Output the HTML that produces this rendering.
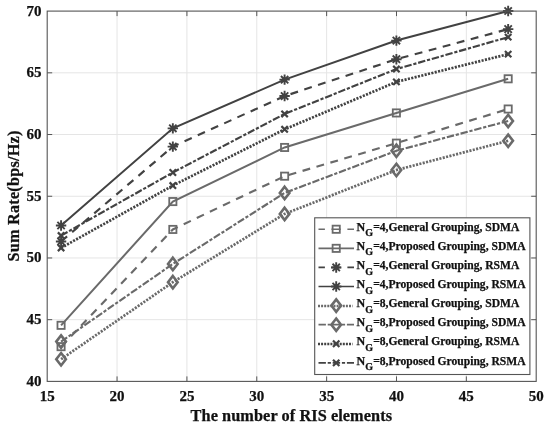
<!DOCTYPE html>
<html><head><meta charset="utf-8"><title>Sum Rate vs RIS elements</title>
<style>html,body{margin:0;padding:0;background:#fff}body{width:550px;height:429px;overflow:hidden}</style>
</head><body>
<svg width="550" height="429" viewBox="0 0 550 429" style="display:block">
<rect width="550" height="429" fill="#fff"/>
<line x1="117.06" y1="11.1" x2="117.06" y2="381.4" stroke="#e5e5e5" stroke-width="1"/>
<line x1="186.91" y1="11.1" x2="186.91" y2="381.4" stroke="#e5e5e5" stroke-width="1"/>
<line x1="256.77" y1="11.1" x2="256.77" y2="381.4" stroke="#e5e5e5" stroke-width="1"/>
<line x1="326.63" y1="11.1" x2="326.63" y2="381.4" stroke="#e5e5e5" stroke-width="1"/>
<line x1="396.49" y1="11.1" x2="396.49" y2="381.4" stroke="#e5e5e5" stroke-width="1"/>
<line x1="466.34" y1="11.1" x2="466.34" y2="381.4" stroke="#e5e5e5" stroke-width="1"/>
<line x1="47.2" y1="319.68" x2="536.2" y2="319.68" stroke="#e5e5e5" stroke-width="1"/>
<line x1="47.2" y1="257.97" x2="536.2" y2="257.97" stroke="#e5e5e5" stroke-width="1"/>
<line x1="47.2" y1="196.25" x2="536.2" y2="196.25" stroke="#e5e5e5" stroke-width="1"/>
<line x1="47.2" y1="134.53" x2="536.2" y2="134.53" stroke="#e5e5e5" stroke-width="1"/>
<line x1="47.2" y1="72.82" x2="536.2" y2="72.82" stroke="#e5e5e5" stroke-width="1"/>
<line x1="117.06" y1="381.4" x2="117.06" y2="376.4" stroke="#555" stroke-width="1"/>
<line x1="117.06" y1="11.1" x2="117.06" y2="16.1" stroke="#555" stroke-width="1"/>
<line x1="186.91" y1="381.4" x2="186.91" y2="376.4" stroke="#555" stroke-width="1"/>
<line x1="186.91" y1="11.1" x2="186.91" y2="16.1" stroke="#555" stroke-width="1"/>
<line x1="256.77" y1="381.4" x2="256.77" y2="376.4" stroke="#555" stroke-width="1"/>
<line x1="256.77" y1="11.1" x2="256.77" y2="16.1" stroke="#555" stroke-width="1"/>
<line x1="326.63" y1="381.4" x2="326.63" y2="376.4" stroke="#555" stroke-width="1"/>
<line x1="326.63" y1="11.1" x2="326.63" y2="16.1" stroke="#555" stroke-width="1"/>
<line x1="396.49" y1="381.4" x2="396.49" y2="376.4" stroke="#555" stroke-width="1"/>
<line x1="396.49" y1="11.1" x2="396.49" y2="16.1" stroke="#555" stroke-width="1"/>
<line x1="466.34" y1="381.4" x2="466.34" y2="376.4" stroke="#555" stroke-width="1"/>
<line x1="466.34" y1="11.1" x2="466.34" y2="16.1" stroke="#555" stroke-width="1"/>
<line x1="47.2" y1="319.68" x2="52.2" y2="319.68" stroke="#555" stroke-width="1"/>
<line x1="536.2" y1="319.68" x2="531.2" y2="319.68" stroke="#555" stroke-width="1"/>
<line x1="47.2" y1="257.97" x2="52.2" y2="257.97" stroke="#555" stroke-width="1"/>
<line x1="536.2" y1="257.97" x2="531.2" y2="257.97" stroke="#555" stroke-width="1"/>
<line x1="47.2" y1="196.25" x2="52.2" y2="196.25" stroke="#555" stroke-width="1"/>
<line x1="536.2" y1="196.25" x2="531.2" y2="196.25" stroke="#555" stroke-width="1"/>
<line x1="47.2" y1="134.53" x2="52.2" y2="134.53" stroke="#555" stroke-width="1"/>
<line x1="536.2" y1="134.53" x2="531.2" y2="134.53" stroke="#555" stroke-width="1"/>
<line x1="47.2" y1="72.82" x2="52.2" y2="72.82" stroke="#555" stroke-width="1"/>
<line x1="536.2" y1="72.82" x2="531.2" y2="72.82" stroke="#555" stroke-width="1"/>
<polyline points="61.07,346.66 172.84,229.43 284.61,176.18 396.39,143.14 508.16,109.00" fill="none" stroke="#6a6a6a" stroke-width="2.15" stroke-dasharray="7.9 6.6"/>
<polyline points="61.07,325.33 172.84,201.57 284.61,147.46 396.39,112.94 508.16,78.80" fill="none" stroke="#6a6a6a" stroke-width="2.0"/>
<polyline points="61.07,241.51 172.84,146.59 284.61,96.05 396.39,59.20 508.16,29.12" fill="none" stroke="#424242" stroke-width="2.15" stroke-dasharray="7.9 6.6"/>
<polyline points="61.07,225.48 172.84,128.35 284.61,79.66 396.39,40.58 508.16,11.00" fill="none" stroke="#424242" stroke-width="2.0"/>
<polyline points="61.07,359.23 172.84,282.19 284.61,213.90 396.39,170.01 508.16,140.80" fill="none" stroke="#6a6a6a" stroke-width="2.7" stroke-dasharray="2.1 1.35"/>
<polyline points="61.07,341.60 172.84,263.94 284.61,192.94 396.39,150.78 508.16,120.95" fill="none" stroke="#6a6a6a" stroke-width="2.15" stroke-dasharray="7.4 1.8 3.2 1.8"/>
<polyline points="61.07,247.92 172.84,185.55 284.61,129.34 396.39,81.88 508.16,54.14" fill="none" stroke="#424242" stroke-width="2.7" stroke-dasharray="2.1 1.35"/>
<polyline points="61.07,235.59 172.84,172.48 284.61,113.93 396.39,69.06 508.16,37.13" fill="none" stroke="#424242" stroke-width="2.15" stroke-dasharray="7.4 1.8 3.2 1.8"/>
<rect x="57.47" y="343.06" width="7.2" height="7.2" fill="none" stroke="#6a6a6a" stroke-width="1.8"/>
<rect x="169.24" y="225.83" width="7.2" height="7.2" fill="none" stroke="#6a6a6a" stroke-width="1.8"/>
<rect x="281.01" y="172.58" width="7.2" height="7.2" fill="none" stroke="#6a6a6a" stroke-width="1.8"/>
<rect x="392.79" y="139.54" width="7.2" height="7.2" fill="none" stroke="#6a6a6a" stroke-width="1.8"/>
<rect x="504.56" y="105.40" width="7.2" height="7.2" fill="none" stroke="#6a6a6a" stroke-width="1.8"/>
<rect x="57.47" y="321.73" width="7.2" height="7.2" fill="none" stroke="#6a6a6a" stroke-width="1.8"/>
<rect x="169.24" y="197.97" width="7.2" height="7.2" fill="none" stroke="#6a6a6a" stroke-width="1.8"/>
<rect x="281.01" y="143.86" width="7.2" height="7.2" fill="none" stroke="#6a6a6a" stroke-width="1.8"/>
<rect x="392.79" y="109.34" width="7.2" height="7.2" fill="none" stroke="#6a6a6a" stroke-width="1.8"/>
<rect x="504.56" y="75.20" width="7.2" height="7.2" fill="none" stroke="#6a6a6a" stroke-width="1.8"/>
<path d="M55.87 241.51H66.27M61.07 236.31V246.71M57.39 237.83L64.75 245.19M57.39 245.19L64.75 237.83" fill="none" stroke="#424242" stroke-width="1.9"/>
<path d="M167.64 146.59H178.04M172.84 141.39V151.79M169.17 142.92L176.52 150.27M169.17 150.27L176.52 142.92" fill="none" stroke="#424242" stroke-width="1.9"/>
<path d="M279.41 96.05H289.81M284.61 90.85V101.25M280.94 92.38L288.29 99.73M280.94 99.73L288.29 92.38" fill="none" stroke="#424242" stroke-width="1.9"/>
<path d="M391.19 59.20H401.59M396.39 54.00V64.40M392.71 55.52L400.06 62.87M392.71 62.87L400.06 55.52" fill="none" stroke="#424242" stroke-width="1.9"/>
<path d="M502.96 29.12H513.36M508.16 23.92V34.32M504.48 25.44L511.83 32.80M504.48 32.80L511.83 25.44" fill="none" stroke="#424242" stroke-width="1.9"/>
<path d="M55.87 225.48H66.27M61.07 220.28V230.68M57.39 221.81L64.75 229.16M57.39 229.16L64.75 221.81" fill="none" stroke="#424242" stroke-width="1.9"/>
<path d="M167.64 128.35H178.04M172.84 123.15V133.55M169.17 124.67L176.52 132.03M169.17 132.03L176.52 124.67" fill="none" stroke="#424242" stroke-width="1.9"/>
<path d="M279.41 79.66H289.81M284.61 74.46V84.86M280.94 75.98L288.29 83.34M280.94 83.34L288.29 75.98" fill="none" stroke="#424242" stroke-width="1.9"/>
<path d="M391.19 40.58H401.59M396.39 35.38V45.78M392.71 36.91L400.06 44.26M392.71 44.26L400.06 36.91" fill="none" stroke="#424242" stroke-width="1.9"/>
<path d="M502.96 11.00H513.36M508.16 5.80V16.20M504.48 7.32L511.83 14.68M504.48 14.68L511.83 7.32" fill="none" stroke="#424242" stroke-width="1.9"/>
<path d="M61.07 353.03L65.87 359.23L61.07 365.43L56.27 359.23Z" fill="none" stroke="#6a6a6a" stroke-width="2.6"/>
<path d="M172.84 275.99L177.64 282.19L172.84 288.39L168.04 282.19Z" fill="none" stroke="#6a6a6a" stroke-width="2.6"/>
<path d="M284.61 207.70L289.41 213.90L284.61 220.10L279.81 213.90Z" fill="none" stroke="#6a6a6a" stroke-width="2.6"/>
<path d="M396.39 163.81L401.19 170.01L396.39 176.21L391.59 170.01Z" fill="none" stroke="#6a6a6a" stroke-width="2.6"/>
<path d="M508.16 134.60L512.96 140.80L508.16 147.00L503.36 140.80Z" fill="none" stroke="#6a6a6a" stroke-width="2.6"/>
<path d="M61.07 335.40L65.87 341.60L61.07 347.80L56.27 341.60Z" fill="none" stroke="#6a6a6a" stroke-width="2.6"/>
<path d="M172.84 257.74L177.64 263.94L172.84 270.14L168.04 263.94Z" fill="none" stroke="#6a6a6a" stroke-width="2.6"/>
<path d="M284.61 186.74L289.41 192.94L284.61 199.14L279.81 192.94Z" fill="none" stroke="#6a6a6a" stroke-width="2.6"/>
<path d="M396.39 144.58L401.19 150.78L396.39 156.98L391.59 150.78Z" fill="none" stroke="#6a6a6a" stroke-width="2.6"/>
<path d="M508.16 114.75L512.96 120.95L508.16 127.15L503.36 120.95Z" fill="none" stroke="#6a6a6a" stroke-width="2.6"/>
<path d="M57.87 244.72L64.27 251.12M57.87 251.12L64.27 244.72" fill="none" stroke="#424242" stroke-width="2.2"/>
<path d="M169.64 182.35L176.04 188.75M169.64 188.75L176.04 182.35" fill="none" stroke="#424242" stroke-width="2.2"/>
<path d="M281.41 126.14L287.81 132.54M281.41 132.54L287.81 126.14" fill="none" stroke="#424242" stroke-width="2.2"/>
<path d="M393.19 78.68L399.59 85.08M393.19 85.08L399.59 78.68" fill="none" stroke="#424242" stroke-width="2.2"/>
<path d="M504.96 50.94L511.36 57.34M504.96 57.34L511.36 50.94" fill="none" stroke="#424242" stroke-width="2.2"/>
<path d="M57.87 232.39L64.27 238.79M57.87 238.79L64.27 232.39" fill="none" stroke="#424242" stroke-width="2.2"/>
<path d="M169.64 169.28L176.04 175.68M169.64 175.68L176.04 169.28" fill="none" stroke="#424242" stroke-width="2.2"/>
<path d="M281.41 110.73L287.81 117.13M281.41 117.13L287.81 110.73" fill="none" stroke="#424242" stroke-width="2.2"/>
<path d="M393.19 65.86L399.59 72.26M393.19 72.26L399.59 65.86" fill="none" stroke="#424242" stroke-width="2.2"/>
<path d="M504.96 33.93L511.36 40.33M504.96 40.33L511.36 33.93" fill="none" stroke="#424242" stroke-width="2.2"/>
<rect x="47.2" y="11.1" width="489.00000000000006" height="370.29999999999995" fill="none" stroke="#555" stroke-width="1.1"/>
<text x="41.5" y="385.80" text-anchor="end" font-size="15" font-family="Liberation Serif, serif" font-weight="bold" fill="#111" stroke="#111" stroke-width="0.25">40</text>
<text x="41.5" y="324.08" text-anchor="end" font-size="15" font-family="Liberation Serif, serif" font-weight="bold" fill="#111" stroke="#111" stroke-width="0.25">45</text>
<text x="41.5" y="262.37" text-anchor="end" font-size="15" font-family="Liberation Serif, serif" font-weight="bold" fill="#111" stroke="#111" stroke-width="0.25">50</text>
<text x="41.5" y="200.65" text-anchor="end" font-size="15" font-family="Liberation Serif, serif" font-weight="bold" fill="#111" stroke="#111" stroke-width="0.25">55</text>
<text x="41.5" y="138.93" text-anchor="end" font-size="15" font-family="Liberation Serif, serif" font-weight="bold" fill="#111" stroke="#111" stroke-width="0.25">60</text>
<text x="41.5" y="77.22" text-anchor="end" font-size="15" font-family="Liberation Serif, serif" font-weight="bold" fill="#111" stroke="#111" stroke-width="0.25">65</text>
<text x="41.5" y="15.50" text-anchor="end" font-size="15" font-family="Liberation Serif, serif" font-weight="bold" fill="#111" stroke="#111" stroke-width="0.25">70</text>
<text x="47.20" y="400.9" text-anchor="middle" font-size="15" font-family="Liberation Serif, serif" font-weight="bold" fill="#111" stroke="#111" stroke-width="0.25">15</text>
<text x="117.06" y="400.9" text-anchor="middle" font-size="15" font-family="Liberation Serif, serif" font-weight="bold" fill="#111" stroke="#111" stroke-width="0.25">20</text>
<text x="186.91" y="400.9" text-anchor="middle" font-size="15" font-family="Liberation Serif, serif" font-weight="bold" fill="#111" stroke="#111" stroke-width="0.25">25</text>
<text x="256.77" y="400.9" text-anchor="middle" font-size="15" font-family="Liberation Serif, serif" font-weight="bold" fill="#111" stroke="#111" stroke-width="0.25">30</text>
<text x="326.63" y="400.9" text-anchor="middle" font-size="15" font-family="Liberation Serif, serif" font-weight="bold" fill="#111" stroke="#111" stroke-width="0.25">35</text>
<text x="396.49" y="400.9" text-anchor="middle" font-size="15" font-family="Liberation Serif, serif" font-weight="bold" fill="#111" stroke="#111" stroke-width="0.25">40</text>
<text x="466.34" y="400.9" text-anchor="middle" font-size="15" font-family="Liberation Serif, serif" font-weight="bold" fill="#111" stroke="#111" stroke-width="0.25">45</text>
<text x="536.20" y="400.9" text-anchor="middle" font-size="15" font-family="Liberation Serif, serif" font-weight="bold" fill="#111" stroke="#111" stroke-width="0.25">50</text>
<text x="190.6" y="421.4" textLength="201.4" lengthAdjust="spacing" font-size="16.3" font-family="Liberation Serif, serif" font-weight="bold" fill="#111" stroke="#111" stroke-width="0.25">The number of RIS elements</text>
<text transform="translate(18.9,261.4) rotate(-90)" textLength="130.8" lengthAdjust="spacing" font-size="16.2" font-family="Liberation Serif, serif" font-weight="bold" fill="#111" stroke="#111" stroke-width="0.25">Sum Rate(bps/Hz)</text>
<rect x="314.7" y="217.8" width="215.2" height="156.7" fill="#fff" stroke="#555" stroke-width="1.1"/>
<line x1="318.5" y1="229.25" x2="354" y2="229.25" stroke="#6a6a6a" stroke-width="1.7" stroke-dasharray="6.4 6.6 9.2 6.7 6.6"/>
<rect x="332.60" y="225.65" width="7.2" height="7.2" fill="none" stroke="#6a6a6a" stroke-width="1.8"/>
<text y="230.95" font-size="11.6" font-family="Liberation Serif, serif" font-weight="bold" fill="#111" stroke="#111" stroke-width="0.25"><tspan x="356.6" font-size="12">N</tspan><tspan x="365.2" dy="5.4" font-size="10">G</tspan><tspan x="373.2" dy="-5.4">=4,General Grouping, SDMA</tspan></text>
<line x1="318.5" y1="248.34" x2="354" y2="248.34" stroke="#6a6a6a" stroke-width="1.6"/>
<rect x="332.60" y="244.74" width="7.2" height="7.2" fill="none" stroke="#6a6a6a" stroke-width="1.8"/>
<text y="250.04" font-size="11.6" font-family="Liberation Serif, serif" font-weight="bold" fill="#111" stroke="#111" stroke-width="0.25"><tspan x="356.6" font-size="12">N</tspan><tspan x="365.2" dy="5.4" font-size="10">G</tspan><tspan x="373.2" dy="-5.4">=4,Proposed Grouping, SDMA</tspan></text>
<line x1="318.5" y1="267.43" x2="354" y2="267.43" stroke="#424242" stroke-width="1.7" stroke-dasharray="6.4 6.6 9.2 6.7 6.6"/>
<path d="M331.00 267.43H341.40M336.20 262.23V272.63M332.52 263.75L339.88 271.11M332.52 271.11L339.88 263.75" fill="none" stroke="#424242" stroke-width="1.9"/>
<text y="269.13" font-size="11.6" font-family="Liberation Serif, serif" font-weight="bold" fill="#111" stroke="#111" stroke-width="0.25"><tspan x="356.6" font-size="12">N</tspan><tspan x="365.2" dy="5.4" font-size="10">G</tspan><tspan x="373.2" dy="-5.4">=4,General Grouping, RSMA</tspan></text>
<line x1="318.5" y1="286.52" x2="354" y2="286.52" stroke="#424242" stroke-width="1.6"/>
<path d="M331.00 286.52H341.40M336.20 281.32V291.72M332.52 282.84L339.88 290.20M332.52 290.20L339.88 282.84" fill="none" stroke="#424242" stroke-width="1.9"/>
<text y="288.22" font-size="11.6" font-family="Liberation Serif, serif" font-weight="bold" fill="#111" stroke="#111" stroke-width="0.25"><tspan x="356.6" font-size="12">N</tspan><tspan x="365.2" dy="5.4" font-size="10">G</tspan><tspan x="373.2" dy="-5.4">=4,Proposed Grouping, RSMA</tspan></text>
<line x1="318.0" y1="306.00" x2="352.6" y2="306.00" stroke="#6a6a6a" stroke-width="2.3" stroke-dasharray="2 1.1"/>
<path d="M336.20 299.41L341.00 305.61L336.20 311.81L331.40 305.61Z" fill="none" stroke="#6a6a6a" stroke-width="2.6"/>
<text y="307.31" font-size="11.6" font-family="Liberation Serif, serif" font-weight="bold" fill="#111" stroke="#111" stroke-width="0.25"><tspan x="356.6" font-size="12">N</tspan><tspan x="365.2" dy="5.4" font-size="10">G</tspan><tspan x="373.2" dy="-5.4">=8,General Grouping, SDMA</tspan></text>
<line x1="318.5" y1="324.70" x2="354" y2="324.70" stroke="#6a6a6a" stroke-width="1.7" stroke-dasharray="7.4 1.8 3.2 1.8"/>
<path d="M336.20 318.50L341.00 324.70L336.20 330.90L331.40 324.70Z" fill="none" stroke="#6a6a6a" stroke-width="2.6"/>
<text y="326.40" font-size="11.6" font-family="Liberation Serif, serif" font-weight="bold" fill="#111" stroke="#111" stroke-width="0.25"><tspan x="356.6" font-size="12">N</tspan><tspan x="365.2" dy="5.4" font-size="10">G</tspan><tspan x="373.2" dy="-5.4">=8,Proposed Grouping, SDMA</tspan></text>
<line x1="318.0" y1="344.00" x2="352.6" y2="344.00" stroke="#424242" stroke-width="2.3" stroke-dasharray="2 1.1"/>
<path d="M333.00 340.59L339.40 346.99M333.00 346.99L339.40 340.59" fill="none" stroke="#424242" stroke-width="2.2"/>
<text y="345.49" font-size="11.6" font-family="Liberation Serif, serif" font-weight="bold" fill="#111" stroke="#111" stroke-width="0.25"><tspan x="356.6" font-size="12">N</tspan><tspan x="365.2" dy="5.4" font-size="10">G</tspan><tspan x="373.2" dy="-5.4">=8,General Grouping, RSMA</tspan></text>
<line x1="318.5" y1="362.88" x2="354" y2="362.88" stroke="#424242" stroke-width="1.7" stroke-dasharray="7.4 1.8 3.2 1.8"/>
<path d="M333.00 359.68L339.40 366.08M333.00 366.08L339.40 359.68" fill="none" stroke="#424242" stroke-width="2.2"/>
<text y="364.58" font-size="11.6" font-family="Liberation Serif, serif" font-weight="bold" fill="#111" stroke="#111" stroke-width="0.25"><tspan x="356.6" font-size="12">N</tspan><tspan x="365.2" dy="5.4" font-size="10">G</tspan><tspan x="373.2" dy="-5.4">=8,Proposed Grouping, RSMA</tspan></text>
</svg>
</body></html>
